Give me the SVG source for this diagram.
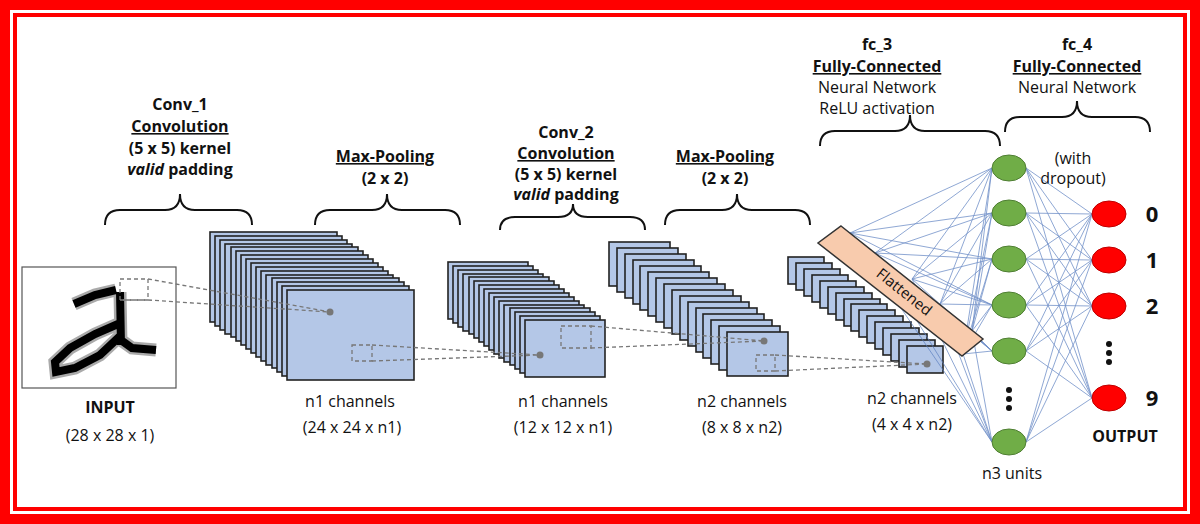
<svg xmlns="http://www.w3.org/2000/svg" width="1200" height="524" viewBox="0 0 1200 524">
<defs>
<style>
text{font-family:"Open Sans","Liberation Sans",sans-serif;font-size:16px;fill:#111;text-anchor:middle}
.b{font-weight:bold}
.u{text-decoration:underline}
.fm{fill:#b4c7e7;stroke:#222;stroke-width:1.6}
.d{fill:none;stroke:#777;stroke-width:1.3;stroke-dasharray:4 3}
.br{fill:none;stroke:#111;stroke-width:2}
.w{stroke:#5b7fc0;stroke-width:0.8;opacity:0.85}
.g{fill:#70ad47;stroke:#4f7f33;stroke-width:1}
.r{fill:#ff0000;stroke:#c00000;stroke-width:1}
</style>
</defs>
<rect x="0" y="0" width="1200" height="524" fill="#fff"/>
<rect x="5" y="5" width="1190" height="514" fill="none" stroke="#ff0000" stroke-width="10"/>
<rect x="15" y="15" width="1170" height="494" fill="none" stroke="#ff0000" stroke-width="4"/>

<g id="labels">
<text class="b" x="180" y="110">Conv_1</text>
<text class="b u" x="180" y="132">Convolution</text>
<text class="b" x="180" y="154">(5 x 5) kernel</text>
<text class="b" x="180" y="175"><tspan font-style="italic">valid</tspan> padding</text>
<text class="b u" x="385" y="162">Max-Pooling</text>
<text class="b" x="385" y="184">(2 x 2)</text>
<text class="b" x="566" y="138">Conv_2</text>
<text class="b u" x="566" y="159">Convolution</text>
<text class="b" x="566" y="180">(5 x 5) kernel</text>
<text class="b" x="566" y="200"><tspan font-style="italic">valid</tspan> padding</text>
<text class="b u" x="725" y="162">Max-Pooling</text>
<text class="b" x="725" y="184">(2 x 2)</text>
<text class="b" x="877" y="50">fc_3</text>
<text class="b u" x="877" y="72">Fully-Connected</text>
<text x="877" y="93">Neural Network</text>
<text x="877" y="114">ReLU activation</text>
<text class="b" x="1077" y="50">fc_4</text>
<text class="b u" x="1077" y="72">Fully-Connected</text>
<text x="1077" y="93">Neural Network</text>
<text x="1073" y="164">(with</text>
<text x="1073" y="184">dropout)</text>
<text class="b" x="110" y="413">INPUT</text>
<text x="110" y="441">(28 x 28 x 1)</text>
<text x="350" y="407">n1 channels</text>
<text x="352" y="433">(24 x 24 x n1)</text>
<text x="563" y="407">n1 channels</text>
<text x="563" y="433">(12 x 12 x n1)</text>
<text x="742" y="407">n2 channels</text>
<text x="742" y="433">(8 x 8 x n2)</text>
<text x="912" y="404">n2 channels</text>
<text x="912" y="430">(4 x 4 x n2)</text>
<text x="1012" y="479">n3 units</text>
<text class="b" x="1125" y="442">OUTPUT</text>
<text class="b" x="1152" y="222" style="font-size:22px">0</text>
<text class="b" x="1152" y="268" style="font-size:22px">1</text>
<text class="b" x="1152" y="314" style="font-size:22px">2</text>
<text class="b" x="1152" y="406" style="font-size:22px">9</text>
</g>

<g id="braces">
<path class="br" d="M105,225 Q105,210 120,210 L165,210 Q180,210 180,194 Q180,210 195,210 L237,210 Q252,210 252,225"/>
<path class="br" d="M315,225 Q315,210 330,210 L372,210 Q387,210 387,194 Q387,210 402,210 L445,210 Q460,210 460,225"/>
<path class="br" d="M500,230 Q500,217 515,217 L558,217 Q573,217 573,204 Q573,217 588,217 L630,217 Q645,217 645,230"/>
<path class="br" d="M665,225 Q665,210 680,210 L722,210 Q737,210 737,194 Q737,210 752,210 L795,210 Q810,210 810,225"/>
<path class="br" d="M820,146 Q820,131 835,131 L895,131 Q910,131 910,115 Q910,131 925,131 L985,131 Q1000,131 1000,146"/>
<path class="br" d="M1005,132 Q1005,117 1020,117 L1062,117 Q1077,117 1077,101 Q1077,117 1092,117 L1135,117 Q1150,117 1150,132"/>
</g>

<g id="input">
<rect x="22" y="267" width="154" height="121" fill="#fff" stroke="#555" stroke-width="1.2"/>
<path d="M74,304 L95,295 L116,290 M120,292 L121,345 M118,324 L95,334 L70,348 L55,362 L56,372 L75,368 L100,355 L118,338 L132,348 L156,350" fill="none" stroke="#aaa" stroke-width="13"/>
<path d="M74,304 L95,295 L116,290 M120,292 L121,345 M118,324 L95,334 L70,348 L55,362 L56,372 L75,368 L100,355 L118,338 L132,348 L156,350" fill="none" stroke="#000" stroke-width="8"/>
</g>

<g id="conv1">
<rect class="fm" x="210" y="232" width="127" height="90"/><rect class="fm" x="215" y="236" width="127" height="90"/><rect class="fm" x="220" y="240" width="127" height="90"/><rect class="fm" x="225" y="244" width="127" height="90"/><rect class="fm" x="231" y="247" width="127" height="90"/><rect class="fm" x="236" y="251" width="127" height="90"/><rect class="fm" x="241" y="255" width="127" height="90"/><rect class="fm" x="246" y="259" width="127" height="90"/><rect class="fm" x="251" y="263" width="127" height="90"/><rect class="fm" x="256" y="267" width="127" height="90"/><rect class="fm" x="261" y="271" width="127" height="90"/><rect class="fm" x="266" y="275" width="127" height="90"/><rect class="fm" x="272" y="278" width="127" height="90"/><rect class="fm" x="277" y="282" width="127" height="90"/><rect class="fm" x="282" y="286" width="127" height="90"/><rect class="fm" x="287" y="290" width="127" height="90"/>
</g>
<g id="pool1">
<rect class="fm" x="448" y="262" width="80" height="57"/><rect class="fm" x="453" y="266" width="80" height="57"/><rect class="fm" x="458" y="270" width="80" height="57"/><rect class="fm" x="463" y="274" width="80" height="57"/><rect class="fm" x="469" y="277" width="80" height="57"/><rect class="fm" x="474" y="281" width="80" height="57"/><rect class="fm" x="479" y="285" width="80" height="57"/><rect class="fm" x="484" y="289" width="80" height="57"/><rect class="fm" x="489" y="293" width="80" height="57"/><rect class="fm" x="494" y="297" width="80" height="57"/><rect class="fm" x="499" y="301" width="80" height="57"/><rect class="fm" x="504" y="305" width="80" height="57"/><rect class="fm" x="510" y="308" width="80" height="57"/><rect class="fm" x="515" y="312" width="80" height="57"/><rect class="fm" x="520" y="316" width="80" height="57"/><rect class="fm" x="525" y="320" width="80" height="57"/>
</g>
<g id="conv2">
<rect class="fm" x="609" y="242" width="61" height="44"/><rect class="fm" x="617" y="248" width="61" height="44"/><rect class="fm" x="625" y="254" width="61" height="44"/><rect class="fm" x="633" y="260" width="61" height="44"/><rect class="fm" x="640" y="266" width="61" height="44"/><rect class="fm" x="648" y="272" width="61" height="44"/><rect class="fm" x="656" y="278" width="61" height="44"/><rect class="fm" x="664" y="284" width="61" height="44"/><rect class="fm" x="672" y="290" width="61" height="44"/><rect class="fm" x="680" y="296" width="61" height="44"/><rect class="fm" x="688" y="302" width="61" height="44"/><rect class="fm" x="696" y="308" width="61" height="44"/><rect class="fm" x="703" y="314" width="61" height="44"/><rect class="fm" x="711" y="320" width="61" height="44"/><rect class="fm" x="719" y="326" width="61" height="44"/><rect class="fm" x="727" y="332" width="61" height="44"/>
</g>
<g id="pool2">
<rect class="fm" x="788" y="257" width="36" height="27"/><rect class="fm" x="796" y="263" width="36" height="27"/><rect class="fm" x="804" y="269" width="36" height="27"/><rect class="fm" x="812" y="275" width="36" height="27"/><rect class="fm" x="820" y="281" width="36" height="27"/><rect class="fm" x="828" y="287" width="36" height="27"/><rect class="fm" x="836" y="293" width="36" height="27"/><rect class="fm" x="844" y="299" width="36" height="27"/><rect class="fm" x="851" y="304" width="36" height="27"/><rect class="fm" x="859" y="310" width="36" height="27"/><rect class="fm" x="867" y="316" width="36" height="27"/><rect class="fm" x="875" y="322" width="36" height="27"/><rect class="fm" x="883" y="328" width="36" height="27"/><rect class="fm" x="891" y="334" width="36" height="27"/><rect class="fm" x="899" y="340" width="36" height="27"/><rect class="fm" x="907" y="346" width="36" height="27"/>
</g>

<g id="connectors">
<rect class="d" x="120" y="279" width="28" height="21"/>
<path class="d" d="M148,279 L330,312 M148,300 L330,312 M120,300 L148,300"/>
<rect class="d" x="352" y="345" width="20" height="16"/>
<path class="d" d="M372,345 L540,355 M372,361 L540,355"/>
<rect class="d" x="561" y="326" width="30" height="22"/>
<path class="d" d="M591,326 L764,341 M591,348 L764,341"/>
<rect class="d" x="756" y="355" width="19" height="16"/>
<path class="d" d="M775,355 L927,364 M775,371 L927,364"/>
<circle cx="330" cy="312" r="3.5" fill="#777"/>
<circle cx="540" cy="355" r="3.5" fill="#777"/>
<circle cx="764" cy="341" r="3.5" fill="#777"/>
<circle cx="927" cy="364" r="3.5" fill="#777"/>
</g>

<g id="weights">
<path class="w" d="M850,233 L992,168 M850,233 L992,213 M850,233 L992,259 M850,233 L992,305 M850,233 L992,351 M850,233 L992,442
M875,253 L992,168 M875,253 L992,213 M875,253 L992,259 M875,253 L992,305 M875,253 L992,351 M875,253 L992,442
M912,279 L992,168 M912,279 L992,213 M912,279 L992,259 M912,279 L992,305 M912,279 L992,351 M912,279 L992,442
M940,304 L992,168 M940,304 L992,213 M940,304 L992,259 M940,304 L992,305 M940,304 L992,351 M940,304 L992,442
M972,331 L992,168 M972,331 L992,213 M972,331 L992,259 M972,331 L992,305 M972,331 L992,351 M972,331 L992,442
M963,354 L992,168 M963,354 L992,213 M963,354 L992,259 M963,354 L992,305 M963,354 L992,351 M963,354 L992,442
M1026,168 L1092,214 M1026,168 L1092,260 M1026,168 L1092,306 M1026,168 L1092,398
M1026,213 L1092,214 M1026,213 L1092,260 M1026,213 L1092,306 M1026,213 L1092,398
M1026,259 L1092,214 M1026,259 L1092,260 M1026,259 L1092,306 M1026,259 L1092,398
M1026,305 L1092,214 M1026,305 L1092,260 M1026,305 L1092,306 M1026,305 L1092,398
M1026,351 L1092,214 M1026,351 L1092,260 M1026,351 L1092,306 M1026,351 L1092,398
M1026,442 L1092,214 M1026,442 L1092,260 M1026,442 L1092,306 M1026,442 L1092,398"/>
</g>

<g id="flattened">
<polygon points="841,226 983,339 962,356 818,243" fill="#f8cbad" stroke="#333" stroke-width="1.5"/>
<text x="0" y="0" transform="translate(901,296) rotate(38.5)" style="font-size:15px">Flattened</text>
</g>

<g id="fc3">
<ellipse class="g" cx="1009" cy="168" rx="17" ry="13"/>
<ellipse class="g" cx="1009" cy="213" rx="17" ry="13"/>
<ellipse class="g" cx="1009" cy="259" rx="17" ry="13"/>
<ellipse class="g" cx="1009" cy="305" rx="17" ry="13"/>
<ellipse class="g" cx="1009" cy="351" rx="17" ry="13"/>
<ellipse class="g" cx="1009" cy="442" rx="17" ry="13"/>
<circle cx="1009" cy="390" r="3" fill="#111"/><circle cx="1009" cy="399" r="3" fill="#111"/><circle cx="1009" cy="408" r="3" fill="#111"/>
</g>
<g id="fc4">
<ellipse class="r" cx="1109" cy="214" rx="17" ry="13"/>
<ellipse class="r" cx="1109" cy="260" rx="17" ry="13"/>
<ellipse class="r" cx="1109" cy="306" rx="17" ry="13"/>
<ellipse class="r" cx="1109" cy="398" rx="17" ry="13"/>
<circle cx="1109" cy="344" r="3" fill="#111"/><circle cx="1109" cy="353" r="3" fill="#111"/><circle cx="1109" cy="362" r="3" fill="#111"/>
</g>
</svg>
